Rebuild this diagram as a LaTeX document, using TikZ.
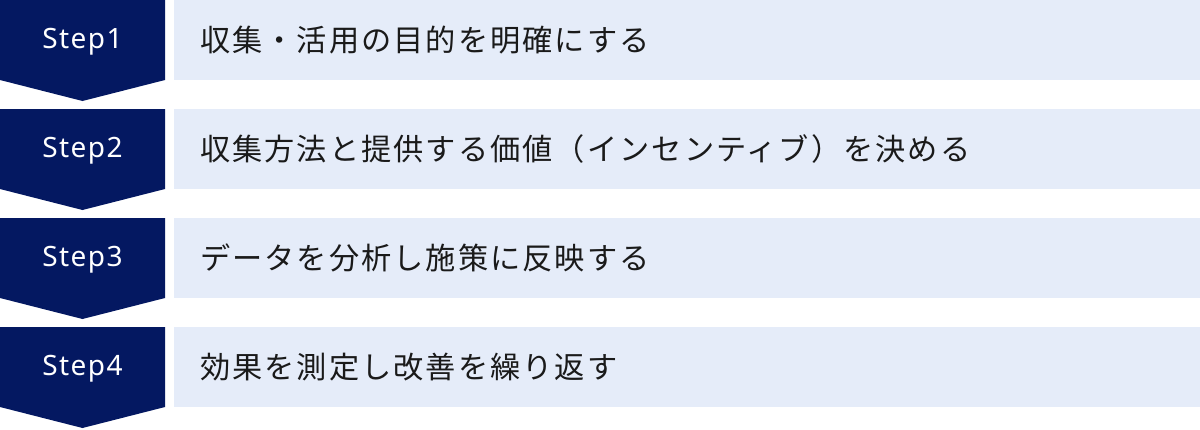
\documentclass[tikz,border=0pt]{standalone}
\usepackage{fontspec}
\setmainfont{Noto Sans}
\newfontfamily\jpfont[LetterSpace=6.8]{Noto Sans CJK JP}
\newfontfamily\stepfont[LetterSpace=5]{Noto Sans}
\definecolor{navy}{HTML}{041861}
\definecolor{paleblue}{HTML}{E5ECF9}
\definecolor{inkgray}{HTML}{1A1A1A}
\tikzset{
  stepshape/.style={fill=navy, draw=none},
  descbox/.style={fill=paleblue, draw=none},
  steplabel/.style={text=white, inner sep=0pt, font=\stepfont\fontsize{28}{32}\selectfont},
  desctext/.style={text=inkgray, inner sep=0pt, anchor=west, font=\jpfont\fontsize{30.2}{34}\selectfont}
}
\begin{document}
\begin{tikzpicture}[x=1pt,y=-1pt]
\useasboundingbox (0,0) rectangle (1200,429);
\foreach \i/\lab/\txt in {0/Step1/収集・活用の目的を明確にする,1/Step2/収集方法と提供する価値（インセンティブ）を決める,2/Step3/データを分析し施策に反映する,3/Step4/効果を測定し改善を繰り返す}{
  \pgfmathsetmacro{\t}{109*\i}
  \fill[stepshape] (0,\t) -- (165,\t) -- (165,\t+80) -- (82.5,\t+101) -- (0,\t+80) -- cycle;
  \fill[descbox] (174,\t) rectangle (1200,\t+80);
  \node[steplabel] (s\i) at (82.5,\t+42) {\lab};
  \node[desctext] (d\i) at (200,\t+40) {\txt};
}
\end{tikzpicture}
\end{document}
